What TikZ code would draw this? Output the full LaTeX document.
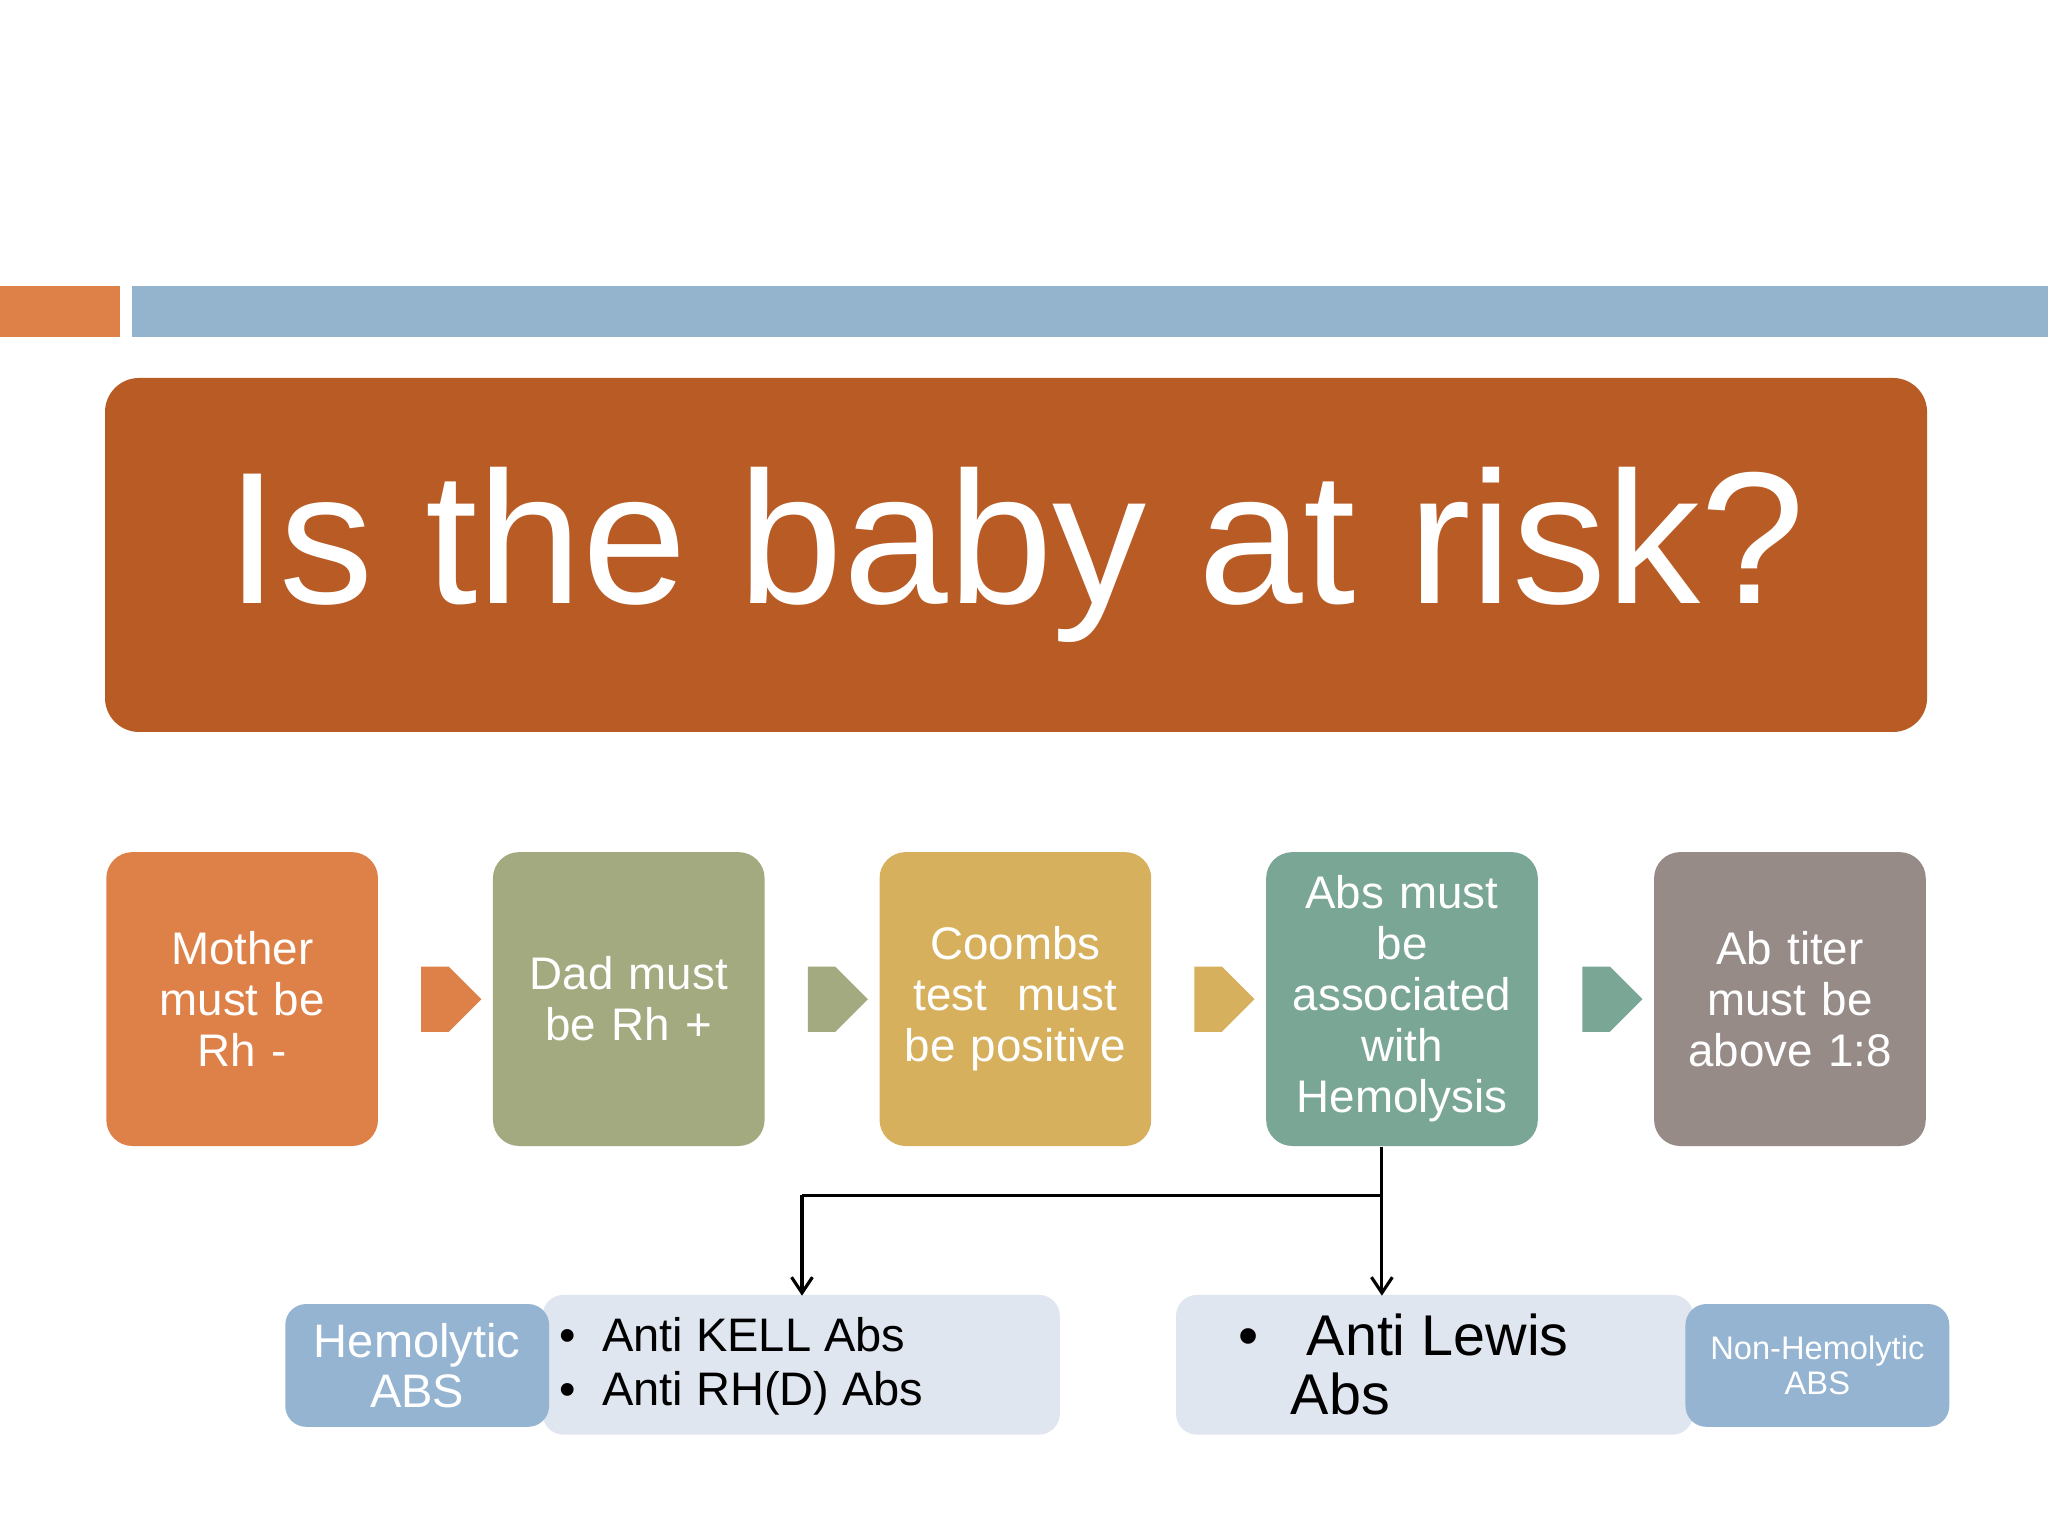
\documentclass[tikz,border=0pt]{standalone}
\usepackage{fontspec}
\setmainfont{Liberation Sans}
\usetikzlibrary{shapes.arrows,arrows.meta}
\definecolor{cor}{HTML}{DE8148}
\definecolor{cbl}{HTML}{94B4CE}
\definecolor{ctit}{HTML}{B85B24}
\definecolor{col}{HTML}{A4AA80}
\definecolor{cgo}{HTML}{D7B05E}
\definecolor{cte}{HTML}{7AA696}
\definecolor{cgr}{HTML}{978B88}
\definecolor{clt}{HTML}{DFE6EF}
\definecolor{chb}{HTML}{94B4D2}
\begin{document}
\begin{tikzpicture}[x=0.5pt,y=-0.5pt,
 stepbox/.style={rounded corners=10pt,minimum width=104pt,minimum height=112.5pt,inner sep=0pt,text=white,align=center,font=\fontsize{17.5}{19.5}\selectfont,text width=100pt,anchor=north west},
 barrow/.style={single arrow,minimum width=25pt,single arrow head extend=0pt,minimum height=23pt,inner sep=0pt,draw=none,single arrow tip angle=90},
 ltbox/.style={fill=clt,rounded corners=8pt,minimum width=198pt,minimum height=53.5pt,inner sep=0pt,anchor=north west},
 tagbox/.style={fill=chb,rounded corners=8pt,minimum width=101pt,minimum height=47pt,inner sep=0pt,anchor=north west,text=white,align=center},
 conn/.style={draw=black,line width=1.2pt,-{Straight Barb[length=6pt,width=8pt]}}]
\useasboundingbox (0,0) rectangle (1568,1176);
\fill[white] (0,0) rectangle (1568,1176);
\fill[cor] (0,219) rectangle (92,258);
\fill[cbl] (101,219) rectangle (1568,258);
\node[fill=ctit,rounded corners=13pt,minimum width=697.5pt,minimum height=135.5pt,anchor=north west,inner sep=0pt,text=white,font=\fontsize{72}{80}\selectfont] (title) at (80,289) {Is the baby at risk?};
\node[stepbox,fill=cor] (b1) at (81,652) {Mother\\must be\\Rh -};
\node[stepbox,fill=col] (b2) at (377,652) {Dad must\\be Rh +};
\node[stepbox,fill=cgo] (b3) at (673,652) {Coombs\\test~~must\\be positive};
\node[stepbox,fill=cte] (b4) at (969,652) {Abs must\\be\\associated\\with\\Hemolysis};
\node[stepbox,fill=cgr] (b5) at (1266,652) {Ab titer\\must be\\above 1:8};
\node[barrow,fill=cor] (a1) at (333,765) {};
\node[barrow,fill=col] (a2) at (629,765) {};
\node[barrow,fill=cgo] (a3) at (925,765) {};
\node[barrow,fill=cte] (a4) at (1222,765) {};
\node[ltbox] (l1) at (415,991) {};
\node[ltbox] (l2) at (900,991) {};
\node[tagbox,font=\fontsize{18}{19}\selectfont] (h1) at (218,998) {Hemolytic\\ABS};
\node[tagbox,font=\fontsize{12.5}{13.5}\selectfont] (h2) at (1290,998) {Non-Hemolytic\\ABS};
\node[anchor=west,font=\fontsize{18}{20}\selectfont,inner sep=0pt] (k1) at (428,1022) {\textbullet\ \ Anti KELL Abs};
\node[anchor=west,font=\fontsize{18}{20}\selectfont,inner sep=0pt] (k2) at (428,1067) {\textbullet\ \ Anti RH(D) Abs};
\node[anchor=west,font=\fontsize{22}{22}\selectfont,inner sep=0pt] (w1) at (948,1022) {\textbullet\ \ \ Anti Lewis};
\node[anchor=west,font=\fontsize{22}{22}\selectfont,inner sep=0pt] (w2) at (988,1067) {Abs};
\coordinate (j) at (1058,915);
\coordinate (j2) at (614,915);
\draw[conn] (b4.south -| j) -- (1058,992);
\draw[line width=1.2pt] (j) -- (j2);
\draw[conn] (j2) -- (614,992);
\end{tikzpicture}
\end{document}
